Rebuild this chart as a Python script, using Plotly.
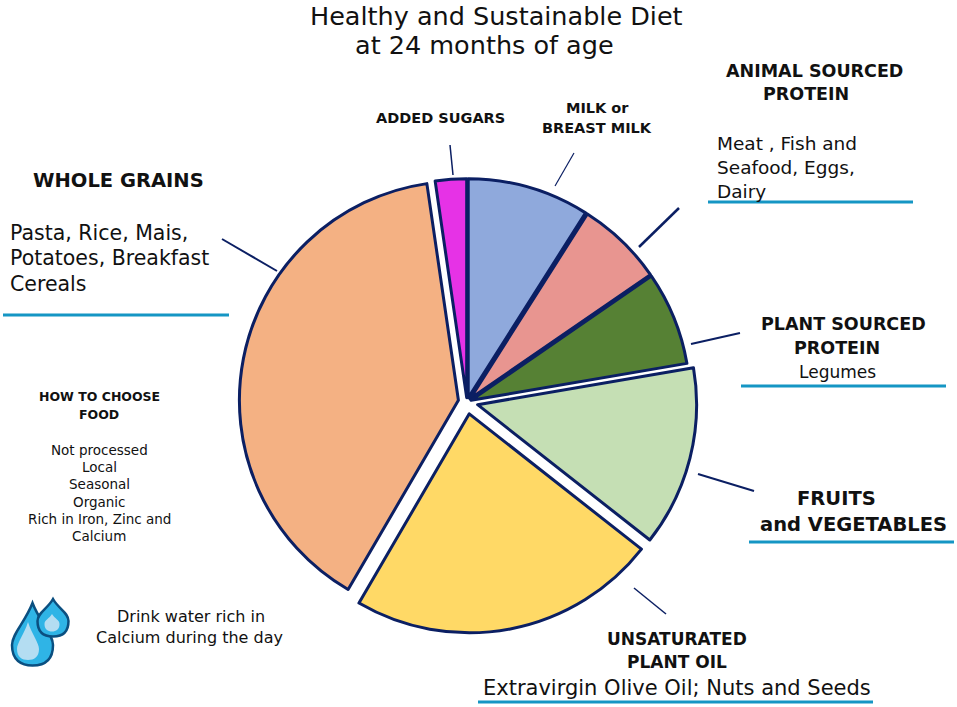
import plotly.graph_objects as go

W, H = 957, 707

# Data
categories = ["Milk or breast milk", "Animal sourced protein", "Plant sourced protein",
              "Fruits and vegetables", "Unsaturated plant oil", "Whole grains", "Added sugars"]
values = [9.0, 6.4, 6.9, 13.3, 22.8, 39.3, 2.3]
pulls = [0.02, 0.02, 0.02, 0.05, 0.055, 0.04, 0.02]
colors = ["#8FA9DC", "#E89590", "#568134", "#C5DFB4", "#FFD966", "#F4B183", "#E632E6"]

NAVY = "#0B1F63"
INK = "#111111"
UNDER = "#1596C4"
FONT = "DejaVu Sans"

def px(x):
    return x / W

def py(y):
    return 1 - y / H

# text, anchor, x, y, size, bold
labels = [
    ("Healthy and Sustainable Diet", "center", 496, 16.5, 25.5, False),
    ("at 24 months of age", "center", 484, 45, 25.5, False),
    ("ANIMAL SOURCED", "center", 814, 71, 17.5, True),
    ("PROTEIN", "center", 806, 94, 17.5, True),
    ("Meat , Fish and", "left", 715, 143, 18.5, False),
    ("Seafood, Eggs,", "left", 715, 167, 18.5, False),
    ("Dairy", "left", 715, 191, 18.5, False),
    ("MILK or", "center", 597, 108, 14.5, True),
    ("BREAST MILK", "center", 597, 128, 14.5, True),
    ("ADDED SUGARS", "center", 440, 118, 14.5, True),
    ("WHOLE GRAINS", "center", 118, 180, 19.5, True),
    ("Pasta, Rice, Mais,", "left", 8, 233, 20.5, False),
    ("Potatoes, Breakfast", "left", 8, 258, 20.5, False),
    ("Cereals", "left", 8, 284, 20.5, False),
    ("PLANT SOURCED", "center", 843, 324, 17.5, True),
    ("PROTEIN", "center", 837, 348, 17.5, True),
    ("Legumes", "center", 837, 372, 17, False),
    ("FRUITS", "center", 836, 498, 19.5, True),
    ("and VEGETABLES", "center", 853, 524, 19.5, True),
    ("UNSATURATED", "center", 677, 639, 17, True),
    ("PLANT OIL", "center", 677, 662, 17, True),
    ("Extravirgin Olive Oil; Nuts and Seeds", "center", 677, 688, 21, False),
    ("HOW TO CHOOSE", "center", 99, 397, 12.5, True),
    ("FOOD", "center", 99, 415, 12.5, True),
    ("Not processed", "center", 99, 450, 13.5, False),
    ("Local", "center", 99, 467, 13.5, False),
    ("Seasonal", "center", 99, 484, 13.5, False),
    ("Organic", "center", 99, 502, 13.5, False),
    ("Rich in Iron, Zinc and", "center", 99, 519, 13.5, False),
    ("Calcium", "center", 99, 536, 13.5, False),
    ("Drink water rich in", "center", 191, 616, 16, False),
    ("Calcium during the day", "center", 189, 637, 16, False),
]

leaders = [
    (450, 145, 453, 175, 1.5), (574, 153, 555, 186, 1.2), (679, 208, 639, 247, 2.5),
    (691, 344, 740, 333, 2), (698, 474, 754, 491, 2), (634, 588, 666, 614, 1.5),
    (222, 239, 277, 271, 2),
]
underlines = [(708, 202, 913), (741, 386, 946), (749, 542, 954), (478, 702, 873), (3, 315, 229)]

R_OUT = 219
MAX_PULL = max(pulls)
half = R_OUT * (1 + MAX_PULL)
CX, CY = 467, 402

fig = go.Figure(go.Pie(
    labels=categories, values=values, pull=pulls, sort=False, direction="clockwise",
    rotation=0, textinfo="none", hoverinfo="skip", showlegend=False,
    marker=dict(colors=colors, line=dict(color=NAVY, width=3)),
    domain=dict(x=[px(CX - half), px(CX + half)], y=[py(CY + half), py(CY - half)]),
))

annotations = []
for text, anchor, x, y, size, bold in labels:
    annotations.append(dict(
        text=f"<b>{text}</b>" if bold else text, xref="paper", yref="paper",
        x=px(x), y=py(y), xanchor=anchor, yanchor="middle", showarrow=False,
        font=dict(family=FONT, size=size, color=INK),
    ))

shapes = []
for x0, y0, x1, y1, w in leaders:
    shapes.append(dict(type="line", xref="paper", yref="paper", x0=px(x0), y0=py(y0),
                       x1=px(x1), y1=py(y1), line=dict(color=NAVY, width=w)))
for x0, y, x1 in underlines:
    shapes.append(dict(type="line", xref="paper", yref="paper", x0=px(x0), y0=py(y),
                       x1=px(x1), y1=py(y), line=dict(color=UNDER, width=3)))

def drop(tipx, tipy, r, cy, fill, line=None, lw=0):
    a = f"{px(tipx)},{py(tipy)}"
    path = (f"M{a} C{px(tipx + r*0.35)},{py(tipy + (cy-tipy)*0.45)} {px(tipx + r)},{py(cy - r*0.55)} "
            f"{px(tipx + r)},{py(cy)} C{px(tipx + r)},{py(cy + r*0.75)} {px(tipx + r*0.55)},{py(cy + r)} "
            f"{px(tipx)},{py(cy + r)} C{px(tipx - r*0.55)},{py(cy + r)} {px(tipx - r)},{py(cy + r*0.75)} "
            f"{px(tipx - r)},{py(cy)} C{px(tipx - r)},{py(cy - r*0.55)} {px(tipx - r*0.35)},{py(tipy + (cy-tipy)*0.45)} {a} Z")
    return dict(type="path", xref="paper", yref="paper", path=path, fillcolor=fill,
                line=dict(color=line or fill, width=lw))

shapes += [
    drop(32.5, 603, 20.5, 645, "#2FB4E6", "#0B4F80", 2.5),
    drop(28, 622, 11, 649, "#B4DDF2"),
    drop(53, 599, 15.5, 621, "#2FB4E6", "#0B4F80", 2.5),
    drop(52, 614, 7.5, 624, "#B4DDF2"),
]

fig.update_layout(
    width=W, height=H, margin=dict(l=0, r=0, t=0, b=0),
    paper_bgcolor="white", plot_bgcolor="white",
    annotations=annotations, shapes=shapes,
)
fig.write_html("out.html", config={"displayModeBar": False},
               post_script="document.body.style.margin='0';document.body.style.overflow='hidden';")
